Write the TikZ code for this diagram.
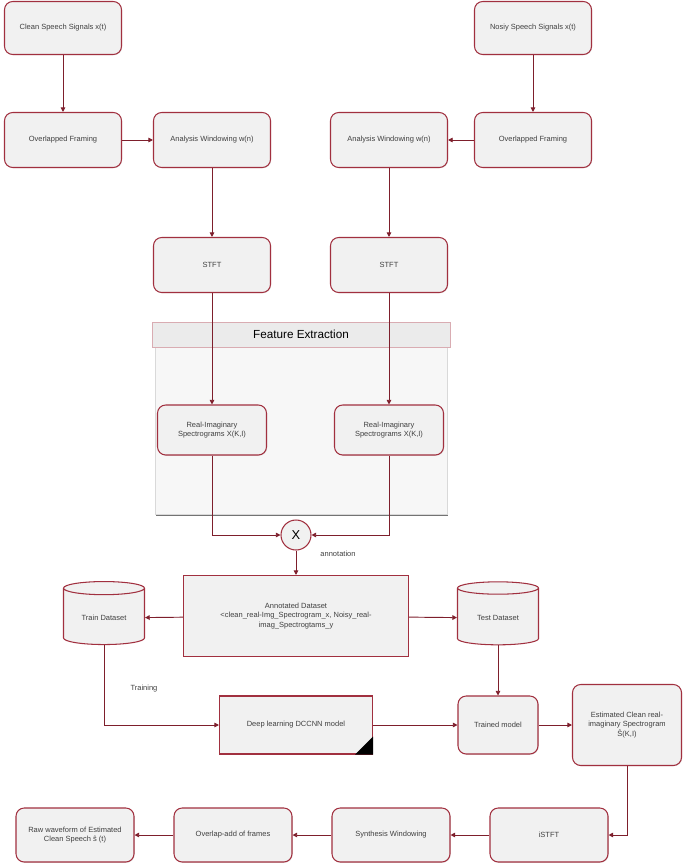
\documentclass[tikz,border=0pt]{standalone}
\usepackage{fontspec}
\setmainfont{Liberation Sans}
\usetikzlibrary{shapes.geometric,shadows,arrows.meta}
\definecolor{boxred}{HTML}{A1303F}
\definecolor{linered}{HTML}{7E1F2C}
\definecolor{boxfill}{HTML}{F1F1F1}
\tikzset{
  blk/.style={draw=boxred, line width=0.9pt, fill=boxfill, rounded corners=7pt, align=center,
    font=\fontsize{6.4}{8}\selectfont, text=black!75,
    drop shadow={opacity=0.25, shadow xshift=0.6pt, shadow yshift=-0.6pt}},
  sq/.style={blk, rounded corners=0pt},
  db/.style={draw=boxred, line width=0.9pt, fill=boxfill, cylinder, shape border rotate=90, aspect=0.25,
    font=\fontsize{6.4}{8}\selectfont, text=black!75},
  arr/.style={-{Triangle[length=4pt,width=4pt]}, linered, line width=0.8pt},
  lbl/.style={font=\fontsize{6.4}{8}\selectfont, text=black!75}
}
\begin{document}
\begin{tikzpicture}[x=0.03cm, y=-0.03cm]
  \useasboundingbox (0,0) rectangle (685,868);

  % feature extraction panel
  \fill[black!55] (156,350) rectangle (448,516);
  \fill[white!97!black, draw=black!15] (155,347) rectangle (447,514);
  \node[draw=boxred!40, fill=black!8, minimum width=298*0.03cm, minimum height=25*0.03cm,
        font=\fontsize{10}{12}\selectfont] (fe) at (301,334.5) {Feature Extraction};

  % top blocks
  \node[blk, minimum width=117*0.03cm, minimum height=53*0.03cm] (clean) at (63,28) {Clean Speech Signals x(t)};
  \node[blk, minimum width=117*0.03cm, minimum height=53*0.03cm] (noisy) at (533,28) {Nosiy Speech Signals x(t)};
  \node[blk, minimum width=117*0.03cm, minimum height=55*0.03cm] (ovlA) at (63,140) {Overlapped Framing};
  \node[blk, minimum width=117*0.03cm, minimum height=55*0.03cm] (winA) at (212,140) {Analysis Windowing w(n)};
  \node[blk, minimum width=117*0.03cm, minimum height=55*0.03cm] (winB) at (389,140) {Analysis Windowing w(n)};
  \node[blk, minimum width=117*0.03cm, minimum height=55*0.03cm] (ovlB) at (533,140) {Overlapped Framing};
  \node[blk, minimum width=117*0.03cm, minimum height=55*0.03cm] (stftA) at (212,265) {STFT};
  \node[blk, minimum width=117*0.03cm, minimum height=55*0.03cm] (stftB) at (389,265) {STFT};
  \node[blk, minimum width=109*0.03cm, minimum height=50*0.03cm] (specA) at (212,430) {Real-Imaginary\\Spectrograms X(K,I)};
  \node[blk, minimum width=109*0.03cm, minimum height=50*0.03cm] (specB) at (389,430) {Real-Imaginary\\Spectrograms X(K,I)};

  % annotation
  \node[circle, draw=boxred, line width=0.9pt, fill=boxfill, minimum size=30*0.03cm, inner sep=0pt,
        font=\fontsize{11}{12}\selectfont] (mix) at (296,535) {X};
  \node[lbl] (annot) at (338,554) {annotation};
  \node[sq, minimum width=225*0.03cm, minimum height=81*0.03cm] (data) at (296,616)
    {Annotated Dataset\\<clean\_real-Img\_Spectrogram\_x, Noisy\_real-\\imag\_Spectrogtams\_y};
  \node[db, minimum width=81*0.03cm, minimum height=63*0.03cm] (train) at (104,618) {Train Dataset};
  \node[db, minimum width=81*0.03cm, minimum height=63*0.03cm] (test) at (498,618) {Test Dataset};
  \node[lbl] (trn) at (144,689) {Training};

  % model row
  \node[sq, minimum width=153*0.03cm, minimum height=58*0.03cm] (dccnn) at (296,725) {Deep learning DCCNN model};
  \fill[black] (dccnn.south east) -- ++(0,-18) -- ++(-18,18) -- cycle;
  \node[blk, minimum width=80*0.03cm, minimum height=58*0.03cm] (tm) at (498,725) {Trained model};
  \node[blk, minimum width=109*0.03cm, minimum height=81*0.03cm] (est) at (627,725)
    {Estimated Clean real-\\imaginary Spectrogram\\Ŝ(K,I)};

  % bottom row
  \node[blk, minimum width=118*0.03cm, minimum height=54*0.03cm] (istft) at (549,835) {iSTFT};
  \node[blk, minimum width=118*0.03cm, minimum height=54*0.03cm] (synth) at (391,835) {Synthesis Windowing};
  \node[blk, minimum width=118*0.03cm, minimum height=54*0.03cm] (ola) at (233,835) {Overlap-add of frames};
  \node[blk, minimum width=118*0.03cm, minimum height=54*0.03cm] (raw) at (75,835) {Raw waveform of Estimated\\Clean Speech ŝ (t)};

  % connectors
  \draw[arr] (clean) -- (ovlA);
  \draw[arr] (ovlA) -- (winA);
  \draw[arr] (winA) -- (stftA);
  \draw[arr] (stftA) -- (specA);
  \draw[arr] (noisy) -- (ovlB);
  \draw[arr] (ovlB) -- (winB);
  \draw[arr] (winB) -- (stftB);
  \draw[arr] (stftB) -- (specB);
  \draw[arr] (specA.south) |- (mix.west);
  \draw[arr] (specB.south) |- (mix.east);
  \draw[arr] (mix) -- (data);
  \draw[arr] (data) -- (train);
  \draw[arr] (data) -- (test);
  \draw[arr] (train.south) |- (dccnn.west);
  \draw[arr] (test.south) -- (tm.north);
  \draw[arr] (dccnn) -- (tm);
  \draw[arr] (tm) -- (est);
  \draw[arr] (est.south) |- (istft.east);
  \draw[arr] (istft) -- (synth);
  \draw[arr] (synth) -- (ola);
  \draw[arr] (ola) -- (raw);
\end{tikzpicture}
\end{document}
